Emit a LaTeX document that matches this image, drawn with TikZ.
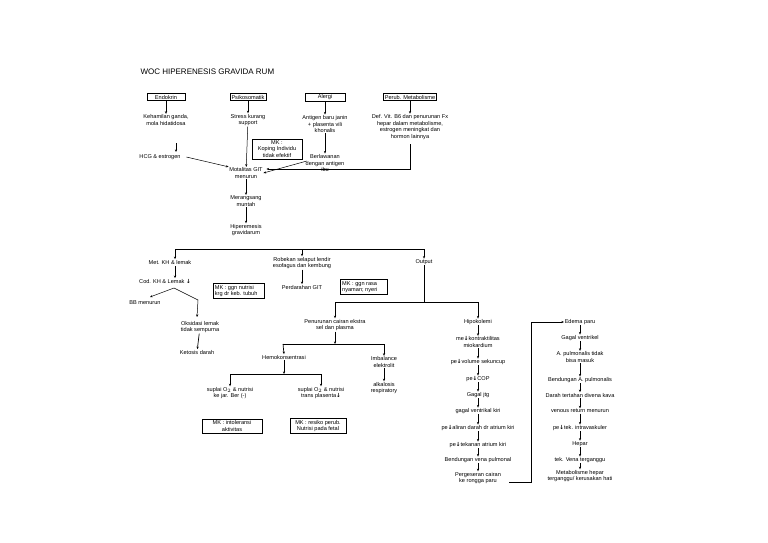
\documentclass[tikz,border=0pt]{standalone}
\usepackage{fontspec}
\setmainfont{Liberation Sans}
\newfontfamily\dvfont{DejaVu Sans}
\newcommand{\darr}{{\dvfont\bfseries ↓}}
\usetikzlibrary{arrows.meta}
\begin{document}
\begin{tikzpicture}[x=1pt,y=-1pt,
  t/.style={align=center,inner sep=0.6pt,font=\fontsize{5.6}{6.6}\selectfont},
  bx/.style={t,draw,line width=0.7pt,inner sep=1.5pt},
  mk/.style={draw,line width=0.7pt,align=left,inner sep=1.5pt,font=\fontsize{5.6}{6.6}\selectfont},
  arr/.style={-{Stealth[length=2.6pt,width=2.2pt]},line width=0.5pt},
  ln/.style={line width=0.7pt}]
\useasboundingbox (0,0) rectangle (768,543);
\node[anchor=west,font=\fontsize{8}{9}\selectfont] (title) at (137,72) {WOC HIPERENESIS GRAVIDA RUM};
% top boxes
\node[bx,minimum width=38pt] (endo) at (166,97) {Endokrin};
\node[bx] (psi) at (248,97) {Psikosomatik};
\node[bx,minimum width=40pt] (aler) at (325,97) {Alergi};
\node[bx] (perub) at (410,97) {Perub. Metabolisme};
\node[t] (keh) at (166,120) {Kehamilan ganda,\\mola hidatidosa};
\node[t] (stres) at (248,120) {Stress kurang\\support};
\node[t] (anti) at (325,124) {Antigen baru janin\\+ plasenta vili\\khonalis};
\node[t] (def) at (410,127) {Def. Vit. B6 dan penurunan Fx\\hepar dalam metabolisme,\\estrogen meningkat dan\\hormon lainnya};
\node[t] (hcg) at (160,157) {HCG \& estrogen};
\node[mk,align=center,minimum width=50pt] (mk1) at (277,149) {MK :\\Koping Individu\\tidak efektif};
\node[t] (berl) at (325,163) {Berlawanan\\dengan antigen\\ibu};
\node[t] (mot) at (246,173) {Motalitas GIT\\menurun};
\node[t] (mer) at (246,201) {Merangsang\\muntah};
\node[t] (hip) at (246,230) {Hiperemesis\\gravidarum};
\draw[arr] (endo) -- (keh);
\draw[arr] (psi) -- (stres);
\draw[arr] (aler) -- (anti);
\draw[arr] (perub) -- (def);
\draw[arr] (176,143) -- (176,152);
\draw[arr] (anti) -- (berl);
\draw[arr] (hcg.east) ++(5,0) -- (mot.north west);
\draw[arr] (stres) -- (mot);
\draw[arr] (berl.west) ++(2,-2) -- (mot.east);
\draw[arr,ln] (def.south) ++(0,4) |- ([xshift=3pt,yshift=4pt]mot.east);
\draw[arr] (mot) -- (mer);
\draw[arr] (mer) -- (hip);
% level 2
\coordinate (l1) at (175,249); \coordinate (l2) at (424,249);
\draw[ln] (l1) -- (l2);
\node[t] (met) at (170,262) {Met. KH \& lemak};
\node[t] (rob) at (302,263) {Robekan selaput lendir\\esofagus dan kembung};
\node[t] (out) at (424,262) {Output};
\draw[arr,ln] (l1) -- (met.north -| l1);
\draw[arr,ln] (302,249) -- (rob.north);
\draw[arr,ln] (l2) -- (out.north);
\node[t] (cod) at (165,281) {Cod. KH \& Lemak \darr};
\draw[arr,ln] (175,266) -- (cod.north -| 175,0);
\node[mk] (mk2) at (239,291) {MK : ggn nutrisi\\krg dr keb. tubuh\phantom{xx}};
\node[t] (perd) at (302,287) {Perdarahan GIT};
\draw[arr,ln] (rob) -- (perd);
\node[mk] (mk3) at (364,287) {MK : ggn rasa\\nyaman; nyeri\phantom{xxx}};
\node[t] (bb) at (145,303) {BB menurun};
\node[t] (oks) at (200,327) {Oksidasi lemak\\tidak sempurna};
\node[t] (ket) at (197,352) {Ketosis darah};
\coordinate (cb) at (174,288);
\draw[arr] (cb) -- (150,297);
\draw[arr] (cb) -- (198,300) -- (197,317);
\draw[arr,ln] (oks) -- (ket);
% output branch
\coordinate (o1) at (424,302);
\draw[ln] (out.south) -- (o1);
\draw[ln] (335,302) -- (478,302);
\node[t] (pen) at (335,325) {Penurunan cairan ekstra\\sel dan plasma};
\node[t] (hk) at (478,322) {Hipokolemi};
\draw[arr,ln] (335,302) -- (pen.north);
\draw[arr,ln] (478,302) -- (hk.north);
\draw[ln] (283,344) -- (384,344);
\draw[arr,ln] (pen.south) -- (335,344);
\node[t] (hemo) at (284,357) {Hemokonsentrasi};
\node[t] (imb) at (384,362) {Imbalance\\elektrolit};
\draw[arr,ln] (283,344) -- (hemo.north);
\draw[arr,ln] (384,344) -- (imb.north);
\draw[ln] (230,374) -- (321,374);
\draw[arr] (hemo.south) -- (284,374);
\node[t] (sup1) at (230,393) {suplai O$_2$ \& nutrisi\\ke jar. Ber (-)};
\node[t] (sup2) at (321,393) {suplai O$_2$ \& nutrisi\\trans plasenta\darr};
\node[t] (alk) at (384,388) {alkalosis\\respiratory};
\draw[arr,ln] (230,374) -- (sup1.north);
\draw[arr,ln] (321,374) -- (sup2.north);
\draw[arr,ln] (imb) -- (alk);
\node[mk,align=center,minimum width=60pt] (mk4) at (232,426) {MK : intoleransi\\aktivitas};
\node[mk,align=center,minimum width=56pt] (mk5) at (318,426) {MK : resiko perub.\\Nutrisi pada fetal};
% right chain 1
\node[t] (a2) at (478,342) {me\darr kontraktilitas\\miokardium};
\node[t] (a3) at (478,362) {pe\darr volume sekuncup};
\node[t] (a4) at (478,379) {pe\darr COP};
\node[t] (a5) at (478,395) {Gagal jtg};
\node[t] (a6) at (478,411) {gagal ventrikal kiri};
\node[t] (a7) at (478,428) {pe\darr aliran darah dr atrium kiri};
\node[t] (a8) at (478,445) {pe\darr tekanan atrium kiri};
\node[t] (a9) at (478,460) {Bendungan vena pulmonal};
\node[t] (a10) at (478,478) {Pergeseran cairan\\ke rongga paru};
\foreach \p/\q in {hk/a2,a2/a3,a3/a4,a4/a5,a5/a6,a6/a7,a7/a8,a8/a9,a9/a10}
  \draw[arr,ln] (\p) -- (\q);
% right chain 2
\node[t] (b1) at (580,322) {Edema paru};
\node[t] (b2) at (580,338) {Gagal ventrikel};
\node[t] (b3) at (580,357) {A. pulmonalis tidak\\bisa masuk};
\node[t] (b4) at (580,380) {Bendungan A. pulmonalis};
\node[t] (b5) at (580,395) {Darah tertahan divena kava};
\node[t] (b6) at (580,411) {venous return menurun};
\node[t] (b7) at (580,428) {pe\darr tek. intravaskuler};
\node[t] (b8) at (580,444) {Hepar};
\node[t] (b9) at (580,460) {tek. Vena terganggu};
\node[t] (b10) at (580,476) {Metabolisme hepar\\terganggu/ kerusakan hati};
\foreach \p/\q in {b1/b2,b2/b3,b3/b4,b4/b5,b5/b6,b6/b7,b7/b8,b8/b9,b9/b10}
  \draw[arr,ln] (\p) -- (\q);
\draw[arr,ln] (509,482) -- (531,482) -- (531,322) -- (b1.west);
\end{tikzpicture}
\end{document}
